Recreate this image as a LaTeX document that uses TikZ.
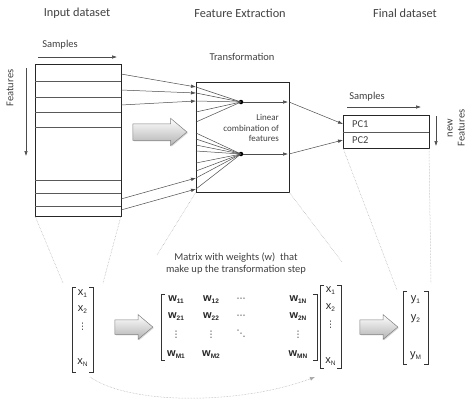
\documentclass[tikz,border=0pt]{standalone}
\usepackage{fontspec}
\setmainfont{Carlito}
\newfontfamily\mfont{Liberation Sans}
\newfontfamily\dvfont{DejaVu Sans}
\usetikzlibrary{arrows.meta,shadows,shapes.arrows}
\newcommand\sbs[1]{\raisebox{-2pt}{\fontsize{6.5}{7}\selectfont #1}}
\tikzset{
  lbl/.style={text=black!75, inner sep=0pt, font=\fontsize{10.5}{12}\selectfont},
  ttl/.style={lbl, font=\fontsize{12.3}{14}\selectfont},
  small/.style={lbl, font=\fontsize{9}{10.5}\selectfont},
  box/.style={draw=black!85, line width=0.9pt},
  row/.style={draw=black!65, line width=0.5pt},
  conn/.style={draw=black!70, line width=0.5pt, -{Latex[length=5pt,width=3.5pt]}},
  fan/.style={draw=black!70, line width=0.5pt},
  blob/.style={circle, fill=black, inner sep=0pt, minimum size=4.5pt},
  dotl/.style={draw=black!35, line width=0.5pt, densely dotted},
  brk/.style={draw=black!80, line width=0.7pt},
  ent/.style={text=black!85, inner sep=0pt, font=\mfont\fontsize{11}{12}\selectfont},
  went/.style={ent, font=\mfont\bfseries\fontsize{11}{12}\selectfont},
  vd/.style={text=black!85, inner sep=0pt, font=\dvfont\fontsize{9}{9}\selectfont},
  bigarr/.style={single arrow, draw=black!50, line width=0.5pt, top color=white, bottom color=black!30,
    inner xsep=0pt, inner ysep=8pt, single arrow head extend=5.5pt, single arrow tip angle=80,
    minimum height=54pt, drop shadow={opacity=0.3, shadow xshift=1pt, shadow yshift=-1pt}},
}
\begin{document}
\begin{tikzpicture}[x=1pt,y=-1pt]
\useasboundingbox (0,0) rectangle (474,408);

% titles
\node[ttl] (t1) at (77,13) {Input dataset};
\node[ttl] (t2) at (240,13) {Feature Extraction};
\node[ttl] (t3) at (405,13) {Final dataset};

% input dataset
\coordinate (inNW) at (35,64);
\coordinate (inSE) at (121,216);
\draw[box] (inNW) rectangle (inSE);
\foreach \yy in {81,97,112,127,180,193,206}
  \draw[row] (35,\yy) -- (121,\yy);
\node[lbl] (s1) at (60,45) {Samples};
\coordinate (s1a) at (38,57); \coordinate (s1b) at (117,57);
\draw[conn] (s1a) -- (s1b);
\coordinate (f1a) at (26,68); \coordinate (f1b) at (26,156);
\draw[conn] (f1a) -- (f1b);
\node[lbl, rotate=90] (f1) at (10,88) {Features};

% big arrow 1
\node[bigarr] (ba1) at (155,132) {};

% transformation box
\coordinate (trNW) at (196,82);
\coordinate (trSE) at (289,192);
\draw[box] (trNW) rectangle (trSE);
\node[lbl] (tt) at (242,57) {Transformation};
\node[blob] (d1) at (241,102) {};
\node[blob] (d2) at (241,154) {};
\coordinate (o1) at (288,102);
\coordinate (o2) at (288,154);
\draw[conn] (d1) -- (o1);
\draw[conn] (d2) -- (o2);
\node[small, align=right, anchor=east] (lc) at (279,128) {Linear\\combination of\\features};

% input arrows and fans
\foreach \ya/\yb [count=\i] in {74/87, 90/93, 105/101, 199/178, 210/189}{
  \coordinate (ia\i) at (121,\ya);
  \coordinate (ib\i) at (196,\yb);
  \draw[conn] (ia\i) -- (ib\i);
}
\foreach \yy in {87,93,101,112,122}{
  \coordinate (u) at (196,\yy);
  \draw[fan] (u) -- (d1.center);
}
\foreach \yy in {133,139,145,151,163,171,178,189}{
  \coordinate (l) at (196,\yy);
  \draw[fan] (l) -- (d2.center);
}

% final dataset
\coordinate (fnNW) at (343,115);
\coordinate (fnSE) at (429,148);
\draw[box] (fnNW) rectangle (fnSE);
\draw[row] (343,132) -- (429,132);
\node[lbl, anchor=west] (pc1) at (352,124) {PC1};
\node[lbl, anchor=west] (pc2) at (352,140) {PC2};
\coordinate (r1) at (289,102); \coordinate (p1) at (343,124);
\coordinate (r2) at (289,154); \coordinate (p2) at (343,140);
\draw[conn] (r1) -- (p1);
\draw[conn] (r2) -- (p2);
\node[lbl] (s2) at (367,97) {Samples};
\coordinate (s2a) at (347,107); \coordinate (s2b) at (421,107);
\draw[conn] (s2a) -- (s2b);
\coordinate (f2a) at (436,116); \coordinate (f2b) at (436,146);
\draw[conn] (f2a) -- (f2b);
\node[lbl, rotate=90, align=center] (f2) at (456,128) {new\\Features};

% bottom: x vector
\draw[brk] (76,287) -- (72,287) -- (72,372) -- (76,372);
\draw[brk] (89,287) -- (93,287) -- (93,372) -- (89,372);
\node[ent] (x1) at (82.5,294) {x\sbs{1}};
\node[ent] (x2) at (82.5,310) {x\sbs{2}};
\node[vd] (xv) at (82.5,327) {⋮};
\node[ent] (xn) at (82.5,363) {x\sbs{N}};

\node[bigarr, minimum height=38pt, inner ysep=7pt, single arrow head extend=5pt] (ba2) at (129.5,327) {};

% matrix text
\node[lbl, align=center] (mt) at (236,263) {Matrix with weights (w) \ that\\make up the transformation step};

% W matrix
\draw[brk] (165,294) -- (161,294) -- (161,360) -- (165,360);
\draw[brk] (313,294) -- (317,294) -- (317,360) -- (313,360);
\node[went] (w11) at (176,300) {w\sbs{11}};
\node[went] (w12) at (211,300) {w\sbs{12}};
\node[vd] (w1d) at (241,300) {⋯};
\node[went] (w1n) at (298,300) {w\sbs{1N}};
\node[went] (w21) at (176,317) {w\sbs{21}};
\node[went] (w22) at (211,317) {w\sbs{22}};
\node[vd] (w2d) at (241,317) {⋯};
\node[went] (w2n) at (298,317) {w\sbs{2N}};
\node[vd] (wv1) at (176,335) {⋮};
\node[vd] (wv2) at (211,335) {⋮};
\node[vd] (wdd) at (241,334) {⋱};
\node[vd] (wvn) at (298,335) {⋮};
\node[went] (wm1) at (176,355) {w\sbs{M1}};
\node[went] (wm2) at (211,355) {w\sbs{M2}};
\node[went] (wmn) at (298,355) {w\sbs{MN}};

% second x vector
\draw[brk] (324,285) -- (320,285) -- (320,368) -- (324,368);
\draw[brk] (337,285) -- (341,285) -- (341,368) -- (337,368);
\node[ent] (xx1) at (330.5,291) {x\sbs{1}};
\node[ent] (xx2) at (330.5,308) {x\sbs{2}};
\node[vd] (xxv) at (330.5,325) {⋮};
\node[ent] (xxn) at (330.5,362) {x\sbs{N}};

\node[bigarr, minimum height=38pt, inner ysep=7pt, single arrow head extend=5pt] (ba3) at (374.5,327) {};

% y vector
\draw[brk] (407,291) -- (403,291) -- (403,364) -- (407,364);
\draw[brk] (424,291) -- (428,291) -- (428,364) -- (424,364);
\node[ent] (y1) at (415.5,300) {y\sbs{1}};
\node[ent] (y2) at (415.5,319) {y\sbs{2}};
\node[ent] (ym) at (415.5,356) {y\sbs{M}};

% dotted guides
\coordinate (g1) at (63,283); \coordinate (g2) at (103,283);
\coordinate (g3) at (157,255); \coordinate (g4) at (342,262);
\coordinate (g5) at (397,290); \coordinate (g6) at (431,283);
\coordinate (inSW) at (35,216);
\coordinate (trSW) at (196,192);
\coordinate (fnSW) at (343,148);
\draw[dotl] (inSW) -- (g1);
\draw[dotl] (inSE) -- (g2);
\draw[dotl] (trSW) -- (g3);
\draw[dotl] (trSE) -- (g4);
\draw[dotl] (fnSW) -- (g5);
\draw[dotl] (fnSE) -- (g6);
\coordinate (cA) at (90,377); \coordinate (cB) at (315,377);
\draw[dotl, -{Latex[length=5pt,width=4pt]}] (cA) .. controls (130,405) and (240,405) .. (cB);
\end{tikzpicture}
\end{document}
